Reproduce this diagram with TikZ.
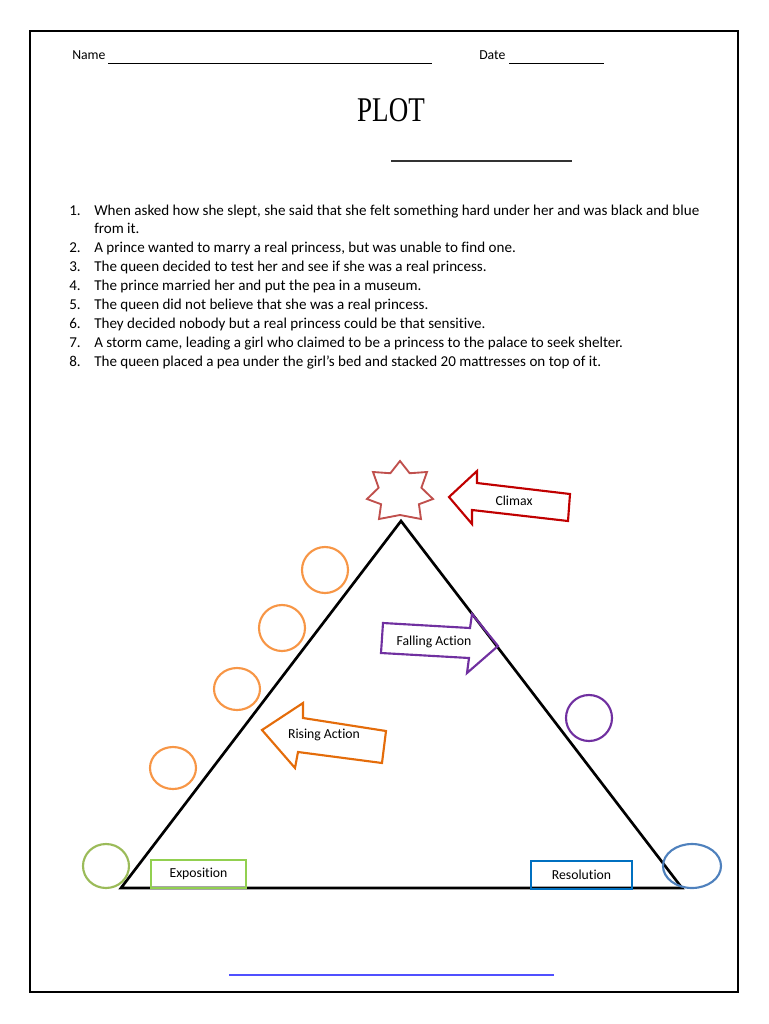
\documentclass[tikz,border=0pt]{standalone}
\usepackage{fontspec}
\setmainfont{Carlito}[Ligatures={NoCommon}]
\newfontfamily\titlefont{Liberation Serif}
\definecolor{climaxred}{HTML}{C00000}
\definecolor{starred}{HTML}{C0504D}
\definecolor{circorange}{HTML}{F79646}
\definecolor{arroworange}{HTML}{E46C0A}
\definecolor{purp}{HTML}{7030A0}
\definecolor{greenbox}{HTML}{92D050}
\definecolor{greencirc}{HTML}{9BBB59}
\definecolor{bluebox}{HTML}{0070C0}
\definecolor{bluecirc}{HTML}{4F81BD}
\definecolor{linkblue}{HTML}{5050FF}
\begin{document}
\begin{tikzpicture}[x=0.75pt,y=-0.75pt,
  hdr/.style={inner sep=0pt, font=\fontsize{10.3}{12}\selectfont},
  txt/.style={inner sep=0pt, font=\fontsize{11.3}{13}\selectfont},
  lbl/.style={inner sep=0pt, font=\fontsize{10.3}{12}\selectfont},
  circ/.style={line width=1.6pt},
  shapeline/.style={line width=1.6pt, line join=miter},
  boxline/.style={line width=1.8pt}]
\useasboundingbox (0,0) rectangle (768,1024);
% page frame
\draw[line width=0.8pt] (30,31) rectangle (738,992);
% header
\node[hdr, anchor=mid west] (name) at (72,56) {Name};
\draw[line width=0.7pt] (108,63) -- (432,63);
\node[hdr, anchor=mid west] (date) at (479,56) {Date};
\draw[line width=0.7pt] (509,63) -- (604,63);
\node[inner sep=0pt] (title) at (391,110) {\scalebox{0.78}[1]{\titlefont\fontsize{26}{28}\selectfont PLOT}};
\draw[line width=1pt, black!80] (391,161) -- (572,161);
% list
\foreach \n/\y/\t in {
 1/212/{When asked how she slept, she said that she felt something hard under her and was black and blue},
 2/249/{A prince wanted to marry a real princess, but was unable to find one.},
 3/268/{The queen decided to test her and see if she was a real princess.},
 4/287/{The prince married her and put the pea in a museum.},
 5/306/{The queen did not believe that she was a real princess.},
 6/325/{They decided nobody but a real princess could be that sensitive.},
 7/344/{A storm came, leading a girl who claimed to be a princess to the palace to seek shelter.},
 8/363/{The queen placed a pea under the girl’s bed and stacked 20 mattresses on top of it.}}{
  \node[txt, anchor=mid east] (num\n) at (81,\y) {\n.};
  \node[txt, anchor=mid west] (item\n) at (94,\y) {\t};
}
\node[txt, anchor=mid west] (item1b) at (94,230) {from it.};
% triangle
\coordinate (apex) at (401,521);
\coordinate (bl) at (121,888);
\coordinate (br) at (682,888);
\draw[line width=2pt, line join=miter] (apex) -- (bl) -- (br) -- cycle;
% star
\coordinate (sc) at (400,493);
\draw[starred, line width=1.4pt, line join=miter]
  ([shift={(0,-32)}]sc) -- ([shift={(-64:22)}]sc) --
  ([shift={(27,-21)}]sc) -- ([shift={(-13.8:22)}]sc) --
  ([shift={(33,6)}]sc) -- ([shift={(30.7:22)}]sc) --
  ([shift={(21,26)}]sc) -- ([shift={(90:22)}]sc) --
  ([shift={(-21,26)}]sc) -- ([shift={(149.3:22)}]sc) --
  ([shift={(-33,6)}]sc) -- ([shift={(193.8:22)}]sc) --
  ([shift={(-27,-21)}]sc) -- ([shift={(244:22)}]sc) -- cycle;
% climax arrow
\draw[climaxred, shapeline] (449,497) -- (477,471) -- (477,483) -- (570,494)
  -- (568,521) -- (472,510) -- (472,524) -- cycle;
\node[lbl] (climax) at (514,501) {Climax};
% falling action arrow
\draw[purp, shapeline] (383,623) -- (470,628) -- (472,614) -- (498,646)
  -- (467,673) -- (469,658) -- (381,653) -- cycle;
\node[lbl] (falling) at (434,642) {Falling Action};
% rising action arrow
\draw[arroworange, shapeline] (262,730) -- (303,703) -- (303,718) -- (386,731)
  -- (382,763) -- (298,752) -- (295,768) -- cycle;
\node[lbl] (rising) at (324,735) {Rising Action};
% orange circles
\draw[circorange, circ] (325,570) circle [radius=23];
\draw[circorange, circ] (282,628) circle [radius=23];
\draw[circorange, circ] (237,689) ellipse [x radius=23, y radius=21];
\draw[circorange, circ] (173,768) ellipse [x radius=23, y radius=21];
% purple circle
\draw[purp, circ] (589,718) circle [radius=23];
% end circles
\draw[greencirc, circ] (106,866) ellipse [x radius=23, y radius=22];
\draw[bluecirc, circ] (692,866) ellipse [x radius=29, y radius=22];
% boxes
\node[draw=greenbox, boxline, minimum width=95*0.75pt, minimum height=28*0.75pt, inner sep=0pt, font=\fontsize{10.3}{12}\selectfont] (expo) at (198.5,874) {Exposition};
\node[draw=bluebox, boxline, minimum width=101*0.75pt, minimum height=28*0.75pt, inner sep=0pt, font=\fontsize{10.3}{12}\selectfont] (reso) at (581.5,875) {Resolution};
% bottom line
\draw[linkblue, line width=1.2pt] (229,975) -- (554,975);
\end{tikzpicture}
\end{document}
